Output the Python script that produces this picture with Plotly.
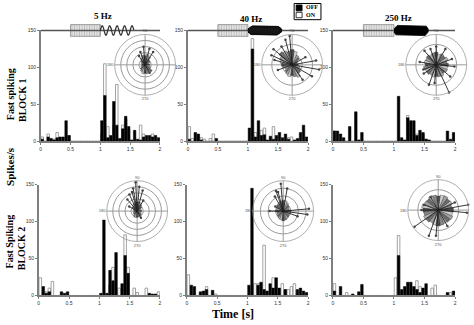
import numpy as np
import plotly.graph_objects as go

W, H = 474, 325

# ---------------- data ----------------
bin_centers = [round(0.025 + 0.05 * k, 3) for k in range(40)]
Z10 = [0] * 10

off_5hz_b1 = [3, 0, 6, 4, 2, 5, 6, 6, 28, 8] + Z10 + [28, 62, 5, 8, 54, 22, 4, 17, 34, 20, 2, 15, 3, 2, 6, 8, 8, 6, 8, 5]
on_5hz_b1 = [6, 0, 10, 0, 3, 12, 0, 0, 0, 8] + Z10 + [10, 105, 20, 0, 22, 77, 0, 22, 30, 16, 0, 0, 0, 22, 10, 0, 0, 10, 0, 0]
off_40hz_b1 = [3, 0, 12, 10, 2, 0, 0, 0, 0, 4] + Z10 + [18, 125, 6, 28, 8, 9, 2, 7, 3, 8, 12, 5, 10, 3, 0, 2, 4, 12, 22, 6]
on_40hz_b1 = [20, 4, 0, 8, 5, 3, 0, 4, 10, 0] + Z10 + [0, 139, 12, 0, 15, 18, 0, 0, 20, 0, 0, 0, 0, 5, 6, 0, 0, 0, 0, 0]
off_250hz_b1 = [14, 14, 10, 5, 0, 20, 0, 40, 2, 12] + Z10 + [0, 61, 5, 2, 32, 28, 28, 8, 15, 12, 3, 2, 0, 0, 0, 0, 0, 14, 3, 12]
on_250hz_b1 = [14, 0, 0, 0, 0, 0, 0, 0, 0, 0] + Z10 + [0, 0, 0, 0, 35, 0, 0, 10, 0, 10, 3, 0, 0, 0, 0, 0, 0, 0, 0, 0]

off_5hz_b2 = [0, 12, 3, 5, 0, 0, 0, 5, 3, 5] + Z10 + [3, 102, 3, 34, 20, 58, 0, 16, 54, 30, 0, 0, 0, 0, 0, 0, 3, 2, 2, 0]
on_5hz_b2 = [24, 0, 5, 10, 19, 0, 0, 0, 0, 0] + Z10 + [0, 0, 0, 14, 38, 0, 10, 0, 82, 38, 0, 10, 4, 0, 0, 10, 0, 0, 0, 5]
off_40hz_b2 = [0, 14, 12, 0, 5, 6, 8, 0, 7, 0] + Z10 + [14, 145, 0, 14, 18, 8, 6, 16, 10, 24, 10, 0, 8, 0, 0, 0, 8, 10, 6, 4]
on_40hz_b2 = [28, 0, 0, 0, 0, 0, 12, 0, 0, 2] + Z10 + [0, 0, 16, 16, 0, 68, 0, 0, 24, 0, 0, 16, 8, 8, 12, 16, 0, 0, 0, 0]
off_250hz_b2 = [6, 0, 12, 0, 0, 0, 2, 0, 5, 15] + Z10 + [0, 54, 8, 12, 18, 18, 12, 8, 4, 10, 16, 0, 0, 0, 0, 0, 0, 4, 0, 6]
on_250hz_b2 = [16, 0, 0, 0, 4, 0, 0, 0, 0, 0] + Z10 + [24, 81, 0, 0, 0, 0, 0, 20, 12, 0, 0, 0, 10, 14, 0, 0, 0, 0, 4, 0]

# phase roses (24 sectors) and preferred-phase vectors (angle deg, normalised length)
rose_theta = list(range(0, 360, 15))
rose_5hz_b1 = [0.15, 0.12, 0.18, 0.2, 0.3, 0.35, 0.3, 0.32, 0.25, 0.18, 0.15, 0.12,
               0.1, 0.12, 0.15, 0.2, 0.25, 0.3, 0.28, 0.3, 0.25, 0.3, 0.2, 0.15]
rose_40hz_b1 = [0.2, 0.15, 0.2, 0.3, 0.35, 0.45, 0.5, 0.45, 0.5, 0.55, 0.45, 0.4,
                0.35, 0.3, 0.25, 0.3, 0.35, 0.4, 0.35, 0.4, 0.45, 0.35, 0.3, 0.25]
rose_250hz_b1 = [0.4, 0.35, 0.42, 0.38, 0.4, 0.36, 0.42, 0.4, 0.37, 0.41, 0.38, 0.4,
                 0.36, 0.42, 0.39, 0.4, 0.37, 0.41, 0.38, 0.4, 0.42, 0.36, 0.4, 0.38]
rose_5hz_b2 = [0.15, 0.12, 0.15, 0.2, 0.25, 0.3, 0.3, 0.28, 0.25, 0.2, 0.15, 0.12,
               0.1, 0.12, 0.14, 0.15, 0.2, 0.22, 0.2, 0.18, 0.2, 0.18, 0.15, 0.12]
rose_40hz_b2 = [0.25, 0.2, 0.22, 0.25, 0.3, 0.35, 0.35, 0.32, 0.3, 0.28, 0.25, 0.22,
                0.25, 0.2, 0.22, 0.25, 0.28, 0.3, 0.32, 0.3, 0.28, 0.25, 0.22, 0.25]
rose_250hz_b2 = [0.5, 0.45, 0.5, 0.48, 0.52, 0.5, 0.46, 0.5, 0.52, 0.48, 0.5, 0.55,
                 0.5, 0.48, 0.52, 0.5, 0.46, 0.5, 0.52, 0.5, 0.48, 0.5, 0.52, 0.48]

vec_5hz_b1 = ([58, 75, 95, 110, 125, 300], [0.5, 0.55, 0.6, 0.45, 0.35, 0.3])
vec_40hz_b1 = ([95, 105, 120, 140, 155, 165, 10, -10, -30, -55, 200, 30],
               [0.95, 0.85, 0.7, 0.8, 0.75, 0.6, 0.8, 0.9, 0.75, 0.6, 0.5, 0.5])
vec_250hz_b1 = ([90, 60, 130, 110, 170, 20, -5, -40, -65, 250, 265, 200, 215],
                [0.6, 0.6, 0.6, 0.55, 0.55, 0.55, 0.6, 0.6, 1.0, 0.7, 0.6, 0.45, 0.5])
vec_5hz_b2 = ([93, 85, 100, 105, 115, 130, 60, 75, 150, 300],
              [0.95, 0.8, 0.75, 0.65, 0.6, 0.5, 0.4, 0.7, 0.3, 0.25])
vec_40hz_b2 = ([95, 80, 105, 120, 110, 5, -8, -20, 180, 150],
               [0.9, 0.75, 0.65, 0.55, 0.7, 0.85, 0.8, 0.5, 0.45, 0.3])
vec_250hz_b2 = ([10, -5, 25, 215, 250, 265, 180, 160, 120, 300],
                [1.0, 0.95, 0.6, 0.95, 0.9, 0.85, 0.55, 0.5, 0.5, 0.6])

titles = ["5 Hz", "40 Hz", "250 Hz"]
stim_freqs = [5, 40, 250]
pre_window = (0.5, 1.0)
wave_window = (1.0, 1.56)

x_ticks = [0, 0.5, 1, 1.5, 2]
x_tick_text = ["0", "0.5", "1", "1.5", "2"]
y_ticks = [0, 50, 100, 150]

# ---------------- geometry (pixels) ----------------
panels = [
    (40, 160, 141, 28), (188, 309, 141, 28), (334, 457, 141, 28),
    (38, 160, 298, 185), (187, 309, 298, 185), (334, 457, 298, 185),
]
polar_centres = [(145, 63), (293, 63), (438, 63), (137, 212), (284, 212), (440, 211)]
polar_R = 31
polar_rings = [[0.2, 0.4, 0.6, 0.8], [0.33, 0.67], [0.33, 0.67],
               [0.2, 0.4, 0.6, 0.8], [0.25, 0.5, 0.75], [0.33, 0.67]]

offs = [off_5hz_b1, off_40hz_b1, off_250hz_b1, off_5hz_b2, off_40hz_b2, off_250hz_b2]
ons = [on_5hz_b1, on_40hz_b1, on_250hz_b1, on_5hz_b2, on_40hz_b2, on_250hz_b2]
roses = [rose_5hz_b1, rose_40hz_b1, rose_250hz_b1, rose_5hz_b2, rose_40hz_b2, rose_250hz_b2]
vecs = [vec_5hz_b1, vec_40hz_b1, vec_250hz_b1, vec_5hz_b2, vec_40hz_b2, vec_250hz_b2]


def fx(p):
    return p / W


def fy(p):
    return 1 - p / H


fig = go.Figure()
layout = dict(
    width=W, height=H, margin=dict(l=0, r=0, t=0, b=0),
    paper_bgcolor="white", plot_bgcolor="rgba(0,0,0,0)",
    showlegend=False, barmode="overlay",
)

axcol = "#7f7f7f"
tickfont = dict(family="Liberation Sans", size=5, color="#333")

for i, (x0, x1, yb, yt) in enumerate(panels):
    n = i + 1
    xa = "x" if n == 1 else f"x{n}"
    ya = "y" if n == 1 else f"y{n}"
    fig.add_trace(go.Bar(x=bin_centers, y=ons[i], width=0.042, xaxis=xa, yaxis=ya,
                         marker=dict(color="white", line=dict(color="#8c8c8c", width=0.8))))
    fig.add_trace(go.Bar(x=bin_centers, y=offs[i], width=0.042, xaxis=xa, yaxis=ya,
                         marker=dict(color="black", line=dict(color="black", width=0.5))))
    layout["xaxis" if n == 1 else f"xaxis{n}"] = dict(
        domain=[fx(x0), fx(x1)], range=[0, 2], anchor=ya,
        tickvals=x_ticks, ticktext=x_tick_text, showline=True, linecolor=axcol, linewidth=1.5,
        ticks="outside", ticklen=2, tickcolor=axcol, tickwidth=1, tickfont=tickfont,
        showgrid=False, zeroline=False)
    layout["yaxis" if n == 1 else f"yaxis{n}"] = dict(
        domain=[fy(yb), fy(yt)], range=[0, 150], anchor=xa,
        tickvals=y_ticks, showline=True, linecolor=axcol, linewidth=1.5,
        ticks="outside", ticklen=2, tickcolor=axcol, tickwidth=1, tickfont=tickfont,
        showgrid=False, zeroline=False)

# ---------------- stimulus icons ----------------
for j in range(3):
    n = 7 + j
    x0, x1, yb, yt = panels[j]
    xa, ya = f"x{n}", f"y{n}"
    layout[f"xaxis{n}"] = dict(domain=[fx(x0), fx(x1)], range=[0, 2], visible=False, anchor=ya)
    layout[f"yaxis{n}"] = dict(domain=[fy(41), fy(15)], range=[-1, 1], visible=False, anchor=xa)
    fig.add_trace(go.Scatter(x=[0, 2], y=[0, 0], mode="lines", xaxis=xa, yaxis=ya,
                             line=dict(color="#555", width=1.5)))
    fig.add_trace(go.Bar(x=[(pre_window[0] + pre_window[1]) / 2], y=[0.92], base=[-0.46],
                         width=[pre_window[1] - pre_window[0]], xaxis=xa, yaxis=ya,
                         marker=dict(color="#dcdcdc", line=dict(color="#888", width=0.8),
                                     pattern=dict(shape="|", fgcolor="#9a9a9a", bgcolor="#e2e2e2",
                                                  size=2.5, solidity=0.35))))
    f = stim_freqs[j]
    t = np.linspace(wave_window[0], wave_window[1], 4000)
    if f == 5:
        wave = 0.36 * np.sin(2 * np.pi * (t - t[0]) / 0.125)
        fig.add_trace(go.Scatter(x=t, y=wave, mode="lines", xaxis=xa, yaxis=ya,
                                 line=dict(color="#333", width=1.2, simplify=False)))
    else:
        ramp = 0.06 if f == 40 else 0.04
        env = np.clip(np.minimum(t - t[0], t[-1] - t) / ramp, 0, 1)
        amp = (0.36 if f == 40 else 0.4) * (0.3 + 0.7 * env)
        xs = np.concatenate([t, t[::-1]])
        ys = np.concatenate([amp, -amp[::-1]])
        fill = "#3a3a3a" if f == 40 else "black"
        fig.add_trace(go.Scatter(x=xs, y=ys, mode="lines", fill="toself", fillcolor=fill,
                                 xaxis=xa, yaxis=ya, line=dict(color="black", width=0.8)))
        if f == 40:
            wave = amp * np.sin(2 * np.pi * f * (t - t[0]))
            fig.add_trace(go.Scatter(x=t, y=wave, mode="lines", xaxis=xa, yaxis=ya,
                                     line=dict(color="#111", width=0.8, simplify=False)))

# ---------------- polar insets ----------------
shades = ["#4d4d4d", "#8a8a8a", "#b3b3b3", "#6e6e6e", "#a0a0a0", "#cfcfcf"]
for i, (cx, cy) in enumerate(polar_centres):
    pid = "polar" if i == 0 else f"polar{i + 1}"
    layout[pid] = dict(
        domain=dict(x=[fx(cx - polar_R), fx(cx + polar_R)], y=[fy(cy + polar_R), fy(cy - polar_R)]),
        bgcolor="rgba(0,0,0,0)",
        radialaxis=dict(range=[0, 1], showticklabels=False, ticks="", tickvals=polar_rings[i],
                        gridcolor="#9a9a9a", gridwidth=0.8, showline=False),
        angularaxis=dict(tickvals=[0, 90, 180, 270], ticktext=["", "90", "180", "270"],
                         tickfont=dict(family="Liberation Sans", size=4, color="#555"),
                         gridcolor="#9a9a9a", gridwidth=0.8, linecolor="#9a9a9a", linewidth=0.8,
                         ticks=""),
    )
    colors = [shades[k % len(shades)] for k in range(len(rose_theta))]
    fig.add_trace(go.Barpolar(r=roses[i], theta=rose_theta, width=15, subplot=pid,
                              marker=dict(color=colors, line=dict(color="black", width=0.3))))
    ang, ln = vecs[i]
    rr, tt = [], []
    for a, l in zip(ang, ln):
        rr += [0, l, None]
        tt += [a, a, None]
    fig.add_trace(go.Scatterpolar(r=rr, theta=tt, mode="lines", subplot=pid,
                                  line=dict(color="#222", width=0.9)))
    fig.add_trace(go.Scatterpolar(r=ln, theta=ang, mode="markers", subplot=pid,
                                  marker=dict(color="#444", size=2.5)))

# ---------------- text ----------------
serif = "Liberation Serif"


def ann(text, x, y, size, angle=0):
    return dict(text=f"<b>{text}</b>", x=fx(x), y=fy(y), xref="paper", yref="paper",
                showarrow=False, textangle=angle, xanchor="center", yanchor="middle",
                font=dict(family=serif, size=size, color="black"))


annotations = [
    ann(titles[0], 103, 13, 9), ann(titles[1], 252, 16, 9), ann(titles[2], 400, 15, 9),
    ann("Fast spiking", 9, 93, 10, -90), ann("BLOCK 1", 21, 99, 10, -90),
    ann("Spikes/s", 9, 166, 11, -90),
    ann("Fast Spiking", 9, 243, 10, -90), ann("BLOCK 2", 21, 250, 10, -90),
    ann("Time [s]", 233, 317, 12),
]
annotations.append(dict(text="<b>OFF</b>", x=fx(305), y=fy(4.5), xref="paper", yref="paper",
                        showarrow=False, xanchor="left", yanchor="middle",
                        font=dict(family=serif, size=6, color="black")))
annotations.append(dict(text="<b>ON</b>", x=fx(305), y=fy(12), xref="paper", yref="paper",
                        showarrow=False, xanchor="left", yanchor="middle",
                        font=dict(family=serif, size=6, color="black")))
layout["annotations"] = annotations

layout["shapes"] = [
    dict(type="rect", xref="paper", yref="paper", x0=fx(295), x1=fx(322), y0=fy(17), y1=fy(0.5),
         line=dict(color="black", width=1), fillcolor="white", layer="below"),
    dict(type="rect", xref="paper", yref="paper", x0=fx(297), x1=fx(303), y0=fy(8), y1=fy(2),
         line=dict(color="black", width=0.8), fillcolor="black"),
    dict(type="rect", xref="paper", yref="paper", x0=fx(297), x1=fx(303), y0=fy(15), y1=fy(9.5),
         line=dict(color="black", width=0.8), fillcolor="white"),
]

fig.update_layout(**layout)
fig.write_html("out.html")
